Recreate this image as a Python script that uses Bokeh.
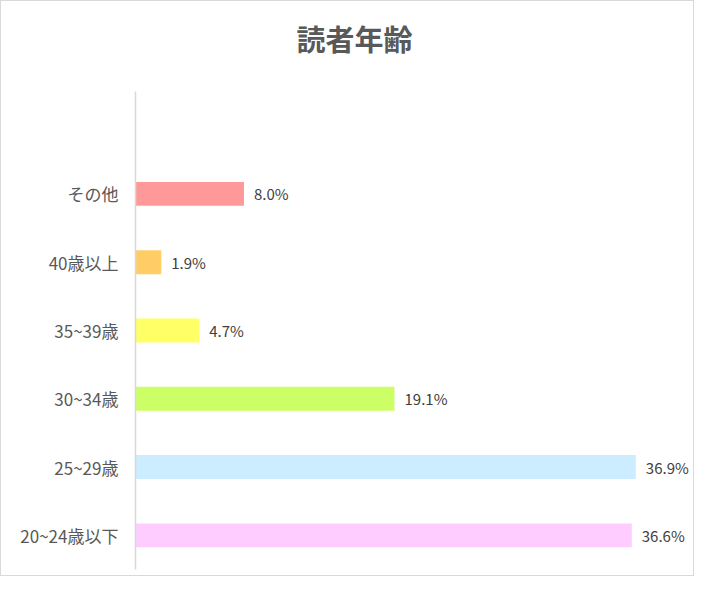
from bokeh.plotting import figure
from bokeh.models import ColumnDataSource, FixedTicker, Range1d, Label
from bokeh.core.properties import value
from bokeh.embed import file_html
from bokeh.resources import INLINE

# data, bottom to top
categories = ["20~24歳以下", "25~29歳", "30~34歳", "35~39歳", "40歳以上", "その他"]
percents = [36.6, 36.9, 19.1, 4.7, 1.9, 8.0]
colors = ["#FFCCFF", "#CCECFF", "#CCFF66", "#FFFF66", "#FFCC66", "#FF9999"]

positions = list(range(1, len(categories) + 1))
source = ColumnDataSource(data={
    'y': positions,
    'pct': percents,
    'color': colors,
    'label': [f"{v:.1f}%" for v in percents],
})

font = "Noto Sans CJK JP"

# the frame reaches up to the top so the title can sit inside it;
# one empty slot is left above the last category
p = figure(width=694, height=576, output_backend="svg", toolbar_location=None,
           x_range=Range1d(0, 41.3), y_range=Range1d(0.5, 8.7))
p.min_border_left = 134
p.min_border_right = 0
p.min_border_top = 8
p.min_border_bottom = 8
p.outline_line_color = None
p.background_fill_color = "white"
p.border_fill_color = "white"
p.styles = {"border": "1px solid #D9D9D9"}

# bars
p.hbar(y='y', right='pct', left=0, height=0.35, fill_color='color', line_color=None, source=source)

# data labels
p.text(x='pct', y='y', text='label', source=source, x_offset=10, text_baseline="middle",
       text_align="left", text_font=value(font), text_font_size="15px", text_color="#404040")

# axes
p.xaxis.visible = False
p.xgrid.visible = False
p.ygrid.visible = False
p.yaxis.bounds = (0.5, 7.5)
p.yaxis.ticker = FixedTicker(ticks=positions)
p.yaxis.major_label_overrides = {pos: cat for pos, cat in zip(positions, categories)}
p.yaxis.axis_line_color = "#D9D9D9"
p.yaxis.axis_line_width = 1.5
p.yaxis.major_tick_line_color = None
p.yaxis.minor_tick_line_color = None
p.yaxis.major_tick_out = 0
p.yaxis.major_label_standoff = 17
p.yaxis.major_label_text_font = font
p.yaxis.major_label_text_font_size = "17px"
p.yaxis.major_label_text_color = "#595959"

# chart title (screen units from the frame's lower left corner)
title = Label(x=219, y=532, x_units="screen", y_units="screen", text="読者年齢",
              text_align="center", text_baseline="middle", text_font=font,
              text_font_size="29px", text_font_style="bold", text_color="#595959")
p.add_layout(title)

open("out.html", "w").write(file_html(p, INLINE))
